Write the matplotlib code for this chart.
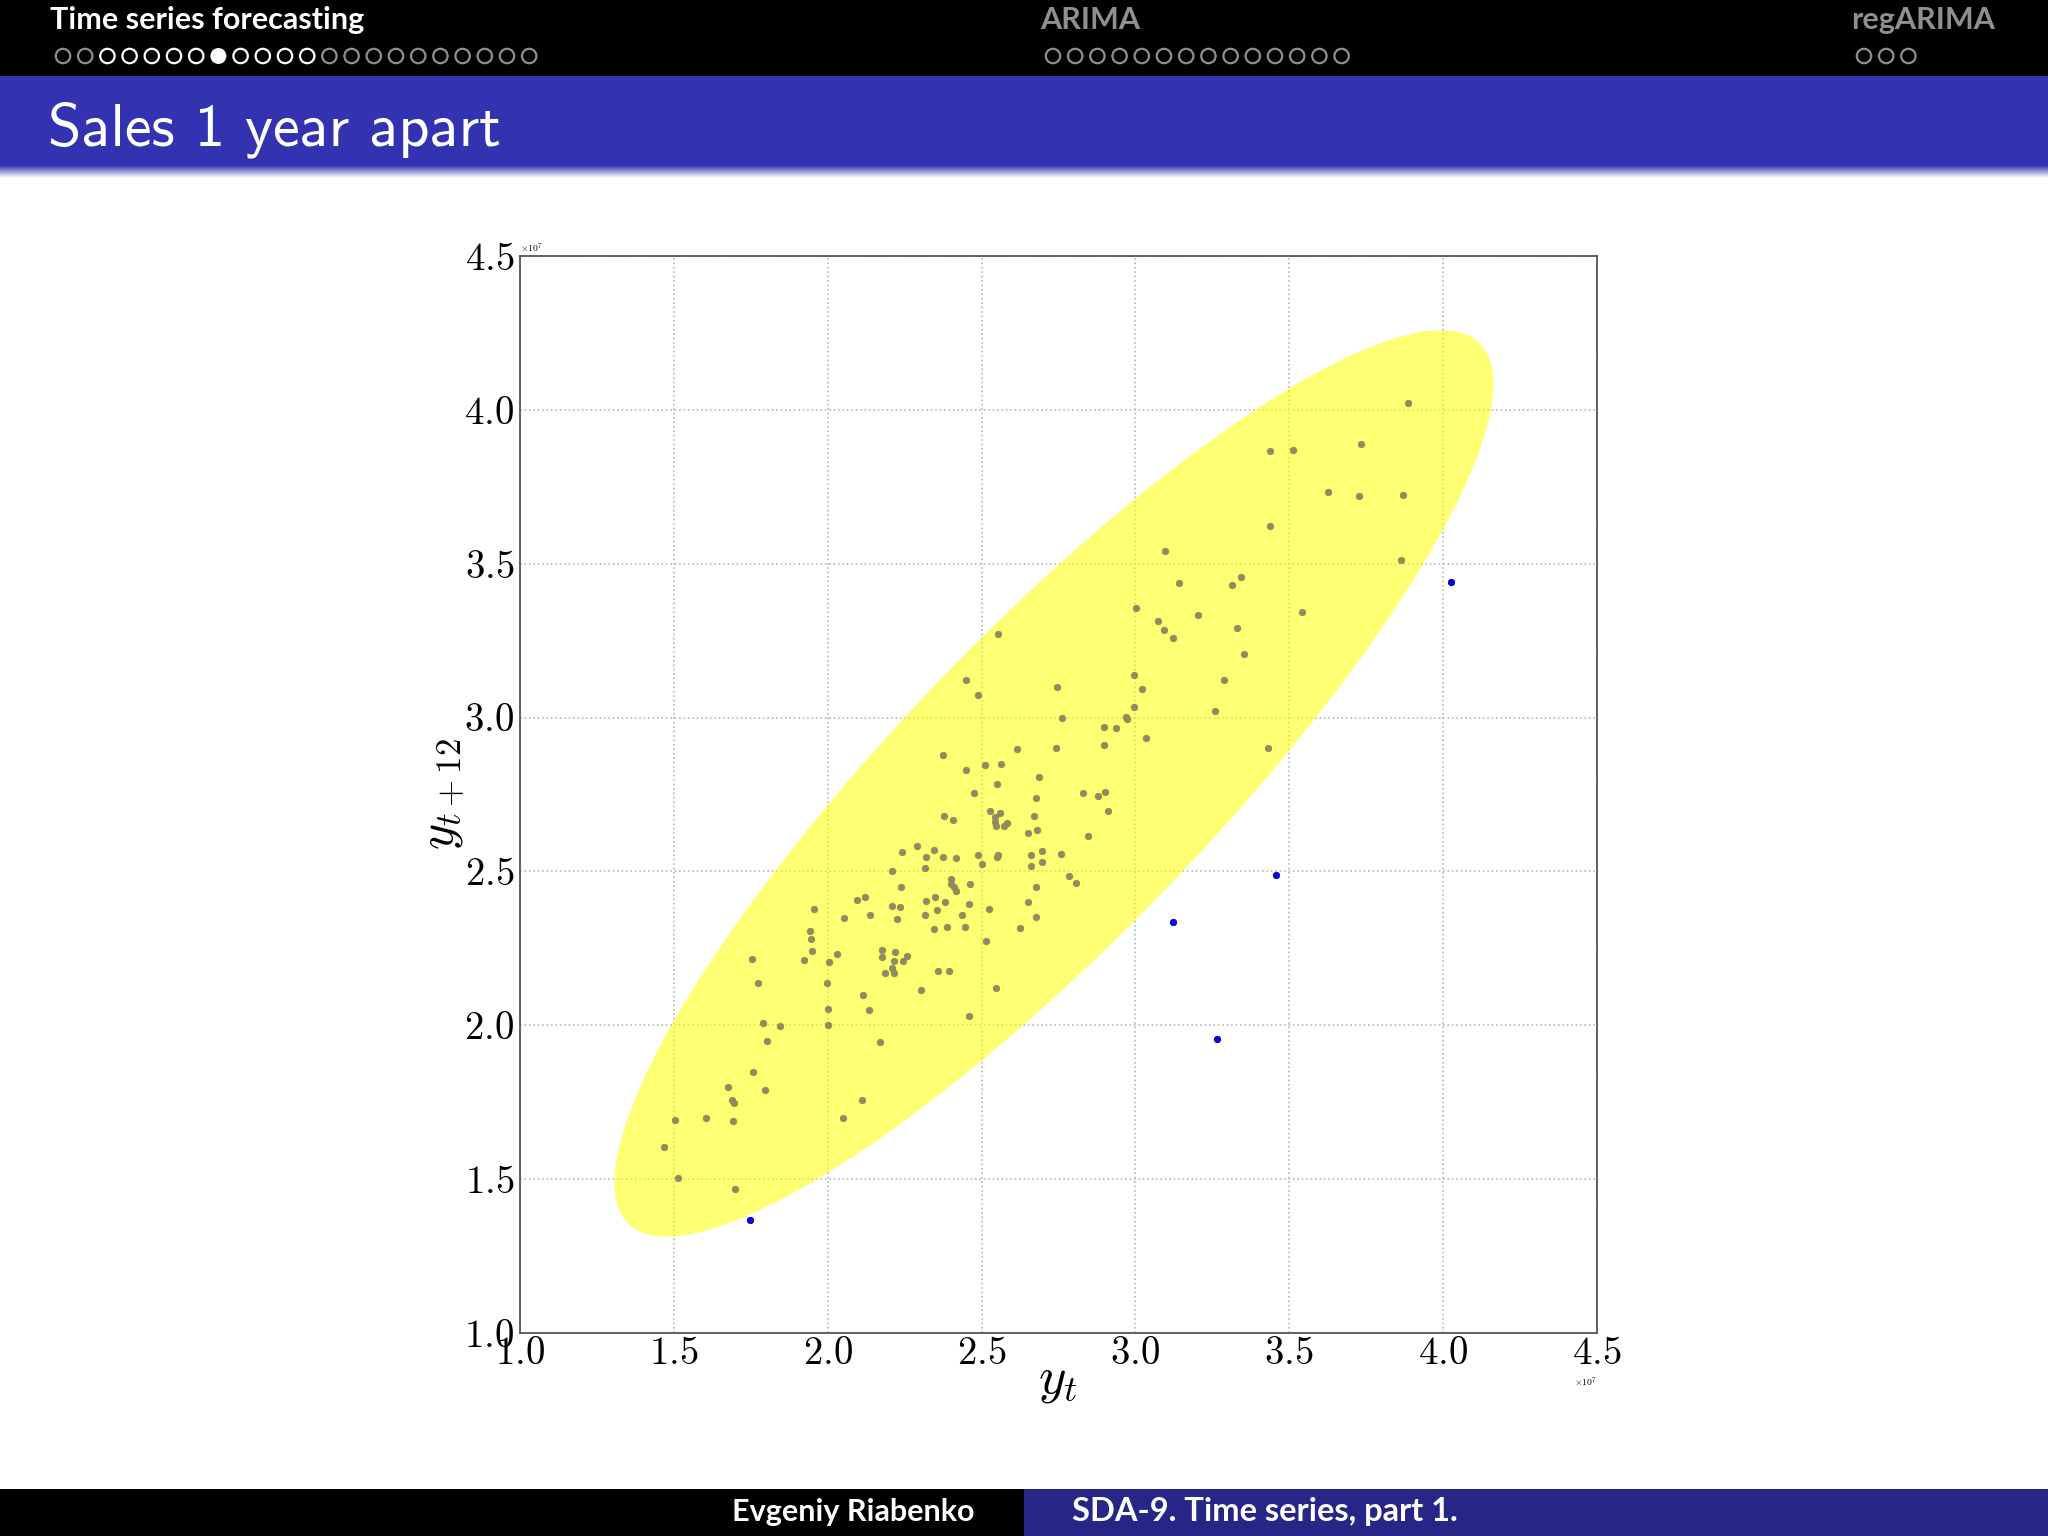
import numpy as np
import matplotlib.pyplot as plt
from matplotlib.patches import Ellipse, Rectangle, Circle
from matplotlib.ticker import MultipleLocator
from matplotlib.colors import LinearSegmentedColormap

plt.rcParams['font.family'] = 'serif'
plt.rcParams['font.serif'] = ['cmr10']
plt.rcParams['mathtext.fontset'] = 'cm'
plt.rcParams['axes.formatter.use_mathtext'] = True
plt.rcParams['axes.unicode_minus'] = False

SCALE = 1e7

# monthly sales y_t against y_{t+12}, in units of 1e7
yt = [2.001, 2.133, 2.458, 1.791, 1.845, 2.001, 1.804, 2.170, 1.756, 1.675,
      1.797, 1.690, 1.697, 1.503, 1.605, 1.693, 2.110, 2.051, 1.468, 1.515,
      1.700,
      2.239, 2.095, 2.120, 1.954, 2.208, 2.234, 2.054, 2.137, 2.226, 1.941,
      1.947, 1.950, 1.753, 1.923, 2.003, 2.029, 2.176, 2.177, 2.220, 2.214,
      2.246, 2.257, 2.208, 2.185, 2.214, 1.772, 1.998, 2.114,
      2.995, 3.259, 2.760, 2.898, 2.936, 2.970, 2.973, 3.035, 2.898, 2.741,
      3.431, 2.615, 2.374, 2.512, 2.564, 2.449, 2.688, 2.549, 2.474, 2.828,
      2.878, 2.901, 2.678, 2.910, 2.527, 2.561, 2.377, 2.406, 2.544, 2.544,
      2.546, 2.573, 2.582, 2.669, 2.650, 2.681, 2.845, 2.289, 2.347, 2.243,
      2.321, 2.375, 2.418, 2.487, 2.502, 2.550, 2.552, 2.660, 2.697, 2.757,
      2.662, 2.697, 2.315, 2.208, 2.785, 2.807, 2.402, 2.400, 2.411, 2.417,
      2.462, 2.678, 2.321, 2.349, 2.381, 2.355, 2.317, 2.437, 2.459, 2.524,
      2.650, 2.678, 2.347, 2.387, 2.446, 2.625, 2.516, 2.358, 2.393, 2.304,
      2.547,
      3.140, 3.001, 3.203, 3.072, 3.092, 3.123, 2.555, 2.449, 2.487, 2.744,
      2.994, 3.020,
      3.885, 3.436, 3.512, 3.734, 3.625, 3.725, 3.870, 3.436, 3.097, 3.863,
      3.315, 3.343, 3.330, 3.540, 3.352, 3.289,
      1.747, 3.123, 3.266, 3.456, 4.024]
yt12 = [2.053, 2.051, 2.031, 2.006, 1.997, 2.000, 1.950, 1.946, 1.847, 1.800,
        1.791, 1.757, 1.746, 1.693, 1.700, 1.690, 1.756, 1.700, 1.605, 1.505,
        1.467,
        2.449, 2.408, 2.417, 2.377, 2.387, 2.383, 2.349, 2.357, 2.345, 2.307,
        2.279, 2.242, 2.216, 2.213, 2.207, 2.233, 2.246, 2.223, 2.239, 2.210,
        2.210, 2.225, 2.185, 2.169, 2.169, 2.136, 2.136, 2.098,
        3.034, 3.022, 2.998, 2.969, 2.966, 3.003, 2.995, 2.935, 2.910, 2.900,
        2.900, 2.897, 2.878, 2.847, 2.850, 2.829, 2.806, 2.784, 2.756, 2.756,
        2.746, 2.759, 2.740, 2.696, 2.696, 2.690, 2.680, 2.668, 2.676, 2.660,
        2.649, 2.649, 2.659, 2.680, 2.624, 2.634, 2.615, 2.584, 2.571, 2.562,
        2.546, 2.546, 2.543, 2.553, 2.524, 2.546, 2.553, 2.553, 2.565, 2.556,
        2.518, 2.530, 2.511, 2.502, 2.486, 2.461, 2.474, 2.459, 2.450, 2.436,
        2.458, 2.448, 2.404, 2.417, 2.401, 2.374, 2.357, 2.357, 2.395, 2.379,
        2.402, 2.352, 2.314, 2.319, 2.319, 2.317, 2.274, 2.176, 2.176, 2.114,
        2.120,
        3.437, 3.355, 3.333, 3.314, 3.286, 3.258, 3.272, 3.123, 3.072, 3.100,
        3.138, 3.092,
        4.022, 3.865, 3.868, 3.888, 3.734, 3.721, 3.724, 3.624, 3.540, 3.511,
        3.430, 3.458, 3.291, 3.342, 3.207, 3.123,
        1.367, 2.336, 1.957, 2.490, 3.440]

# confidence ellipse (units of 1e7)
ell_center = (2.735, 2.786)
ell_width = 3.98
ell_height = 1.0
ell_angle = 46

# slide header / footer
sections = ['Time series forecasting', 'ARIMA', 'regARIMA']
frames = [22, 14, 3]
current_frame = 7
bright_frames = range(2, 12)
slide_title = 'Sales 1 year apart'
author = 'Evgeniy Riabenko'
talk = 'SDA-9. Time series, part 1.'

BLUE = '#3333B2'
BLUE_DARK = '#262686'
GRAY = '#8f8f8f'

fig = plt.figure(figsize=(20.48, 15.36), dpi=100)

# background layer in pixel coordinates
bg = fig.add_axes([0, 0, 1, 1], zorder=0)
bg.set_xlim(0, 2048)
bg.set_ylim(1536, 0)
bg.axis('off')

bg.add_patch(Rectangle((0, 0), 2048, 76, color='black', lw=0))
bg.add_patch(Rectangle((0, 76), 2048, 90, color=BLUE, lw=0))
grad = np.linspace(0, 1, 30).reshape(-1, 1)
bg.imshow(grad, extent=[0, 2048, 84, 72], aspect='auto',
          cmap=LinearSegmentedColormap.from_list('kb', ['black', BLUE]))
bg.imshow(grad, extent=[0, 2048, 178, 165], aspect='auto',
          cmap=LinearSegmentedColormap.from_list('bw', [BLUE, 'white']))
bg.add_patch(Rectangle((0, 1489), 1024, 47, color='black', lw=0))
bg.add_patch(Rectangle((1024, 1489), 1024, 47, color=BLUE_DARK, lw=0))

sec_x = [50, 1040, 1851]
for i, (name, n, x0) in enumerate(zip(sections, frames, sec_x)):
    col = 'white' if i == 0 else GRAY
    bg.text(x0, 29, name, color=col, fontsize=22, fontweight='bold',
            family='Lato', va='baseline', ha='left')
    for k in range(n):
        cx = x0 + 13 + 22.2 * k
        if i == 0 and k == current_frame:
            bg.add_patch(Circle((cx, 56), 8, color='white', lw=0))
        else:
            c = 'white' if (i == 0 and k in bright_frames) else GRAY
            bg.add_patch(Circle((cx, 56), 7.2, fill=False, ec=c, lw=1.6))

bg.text(48, 145, slide_title, color='white', fontsize=43.5, family='cmss10',
        va='baseline', ha='left')
bg.text(974, 1521, author, color='white', fontsize=22, fontweight='bold',
        family='Lato', va='baseline', ha='right')
bg.text(1072, 1521, talk, color='white', fontsize=23.5, fontweight='bold',
        family='Lato', va='baseline', ha='left')

# the scatter plot
ax = fig.add_axes([520 / 2048, 1 - 1333 / 1536, 1077 / 2048, 1077 / 1536], zorder=1)
ax.scatter(np.array(yt) * SCALE, np.array(yt12) * SCALE, s=22, c='#0000ff',
           edgecolors='#000050', linewidths=0.5, zorder=2)
ax.add_patch(Ellipse((ell_center[0] * SCALE, ell_center[1] * SCALE),
                     ell_width * SCALE, ell_height * SCALE, angle=ell_angle,
                     facecolor='#ffff00', edgecolor='none', alpha=0.55, zorder=3))

ax.set_xlim(1.0 * SCALE, 4.5 * SCALE)
ax.set_ylim(1.0 * SCALE, 4.5 * SCALE)
ax.xaxis.set_major_locator(MultipleLocator(0.5 * SCALE))
ax.yaxis.set_major_locator(MultipleLocator(0.5 * SCALE))
ax.grid(True, color='#b8b8b8', linestyle=':', linewidth=1.2, zorder=1)
ax.set_axisbelow(True)
ax.tick_params(length=0, labelsize=28)
ax.tick_params(axis='x', pad=2)
ax.tick_params(axis='y', pad=4)
ax.xaxis.get_offset_text().set_fontsize(7)
ax.yaxis.get_offset_text().set_fontsize(7)
for s in ax.spines.values():
    s.set_color('#555555')
    s.set_linewidth(1.3)

ax.set_xlabel('$y_t$', fontsize=38, labelpad=-10)
ax.set_ylabel('$y_{t+12}$', fontsize=36, labelpad=-2)

fig.savefig('out.png', dpi=100, facecolor='white')
